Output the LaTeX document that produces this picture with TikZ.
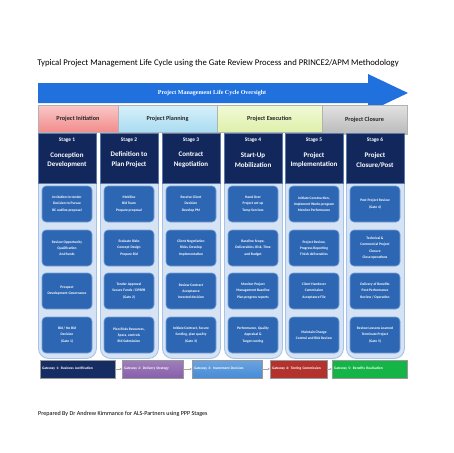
\documentclass[tikz,border=0pt]{standalone}
\usepackage{fontspec}
\setmainfont{Carlito}
\newfontfamily\serifb{Liberation Serif}
\usetikzlibrary{arrows.meta}
\definecolor{navy}{RGB}{18,40,92}
\definecolor{navyborder}{RGB}{90,120,170}
\definecolor{arrowblue}{RGB}{32,112,222}
\definecolor{colfill}{RGB}{214,227,244}
\definecolor{colline}{RGB}{165,195,232}
\definecolor{boxblue}{RGB}{45,103,180}
\definecolor{boxline}{RGB}{120,160,215}
\definecolor{gnavy}{RGB}{22,45,100}
\definecolor{gpurple}{RGB}{135,95,170}
\definecolor{gblue}{RGB}{70,140,215}
\definecolor{gred}{RGB}{180,50,45}
\definecolor{ggreen}{RGB}{20,180,70}
\tikzset{
  phase/.style={draw=gray!60, line width=0.4pt, minimum height=27, inner sep=0pt,
     font=\bfseries\fontsize{6.2}{7}\selectfont, text=black!85},
  colbg/.style={draw=colline, fill=colfill, line width=0.9pt, rounded corners=10,
     minimum width=58, minimum height=225, inner sep=0pt},
  stagehead/.style={draw=navyborder, fill=navy, line width=0.5pt, minimum width=58,
     minimum height=50, inner sep=0pt},
  stagelbl/.style={text=white, font=\bfseries\fontsize{5.4}{6}\selectfont, inner sep=0pt},
  stagename/.style={text=white, font=\bfseries\fontsize{7}{9.8}\selectfont, align=center, inner sep=0pt},
  pbox/.style={draw=boxline, line width=0.6pt, fill=boxblue, rounded corners=4, minimum width=50,
     minimum height=36, inner sep=0pt, text=white, align=center,
     font=\bfseries\fontsize{3.6}{6.2}\selectfont},
  gate/.style={minimum height=18, inner sep=0pt, text=white, draw=black!40, line width=0.3pt,
     font=\bfseries\fontsize{3.6}{4.2}\selectfont, align=left},
  garrow/.style={-{Stealth[length=2.2pt,width=2.2pt]}, draw=gray!70, line width=0.5pt}
}
\begin{document}
\begin{tikzpicture}[x=1pt,y=-1pt]
\useasboundingbox[fill=white] (0,0) rectangle (453,453);
% title
\node[font=\fontsize{8.7}{10}\selectfont, inner sep=0pt] (title) at (218,63)
  {Typical Project Management Life Cycle using the Gate Review Process and PRINCE2/APM Methodology};
% big arrow
\fill[arrowblue] (38,83) -- (368,83) -- (368,74) -- (408,93) -- (368,112) -- (368,103) -- (38,103) -- cycle;
\node[text=white, font=\serifb\bfseries\fontsize{6}{7}\selectfont, inner sep=0pt] (oversight) at (212,93)
  {Project Management Life Cycle Oversight};
% phases
\node[phase, top color={rgb,255:red,250;green,200;blue,200}, bottom color={rgb,255:red,242;green,140;blue,140},
  minimum width=80] (ph1) at (78,118.5) {Project Initiation};
\node[phase, top color={rgb,255:red,215;green,240;blue,250}, bottom color={rgb,255:red,170;green,220;blue,242},
  minimum width=99] (ph2) at (167.5,118.5) {Project Planning};
\node[phase, top color={rgb,255:red,242;green,250;blue,215}, bottom color={rgb,255:red,222;green,240;blue,170},
  minimum width=105] (ph3) at (269.5,118.5) {Project Execution};
\node[phase, top color={rgb,255:red,225;green,225;blue,225}, bottom color={rgb,255:red,185;green,185;blue,185},
  minimum width=85, minimum height=29] (ph4) at (364.5,120) {Project Closure};
% columns
\foreach \k/\xl/\nm in {1/38/{Conception\\Development}, 2/100/{Definition to\\Plan Project},
   3/162/{Contract\\Negotiation}, 4/224/{Start-Up\\Mobilization}, 5/285/{Project\\Implementation},
   6/346/{Project\\Closure/Post}}{
  \node[colbg, anchor=north west] (col\k) at (\xl,133) {};
  \node[stagehead, anchor=north west] (head\k) at (\xl,133) {};
  \node[stagelbl] (lbl\k) at (\xl+29,140) {Stage \k};
  \node[stagename] (name\k) at (\xl+29,160) {\nm};
}
% stage 1 boxes
\node[pbox] (b11) at (67,204) {Invitation to tender\\Decision to Pursue\\BC outline proposal};
\node[pbox] (b12) at (67,248) {Review Opportunity\\Qualification\\And funds};
\node[pbox] (b13) at (67,291) {Prospect\\Development Governance};
\node[pbox] (b14) at (67,335) {Bid / No Bid\\Decision\\(Gate 1)};
% stage 2
\node[pbox] (b21) at (129,204) {Mobilise\\Bid Team\\Prepare proposal};
\node[pbox] (b22) at (129,248) {Evaluate Risks\\Concept Design\\Prepare Bid};
\node[pbox] (b23) at (129,291) {Tender Approval\\Secure Funds / DPBPB\\(Gate 2)};
\node[pbox] (b24) at (129,335) {Plan Risks Resources,\\Specs, controls\\Bid Submission};
% stage 3
\node[pbox] (b31) at (191,204) {Receive Client\\Decision\\Develop PM};
\node[pbox] (b32) at (191,248) {Client Negotiation\\Risks, Develop\\Implementation};
\node[pbox] (b33) at (191,291) {Review Contract\\Acceptance\\Invested decision};
\node[pbox] (b34) at (191,335) {Initiate Contract, Secure\\funding, plan quality\\(Gate 3)};
% stage 4
\node[pbox] (b41) at (253,204) {Hand Over\\Project set-up\\Temp Services};
\node[pbox] (b42) at (253,248) {Baseline Scope,\\Deliverables, Risk, Time\\and Budget};
\node[pbox] (b43) at (253,291) {Monitor Project\\Management Baseline\\Plan progress reports};
\node[pbox] (b44) at (253,335) {Performance, Quality\\Appraisal \&\\Target costing};
% stage 5
\node[pbox] (b51) at (314,204) {Initiate Construction,\\Implement Works program\\Monitor Performance};
\node[pbox] (b52) at (314,248) {Project Review,\\Progress Reporting\\Finish deliverables};
\node[pbox] (b53) at (314,291) {Client Handover\\Commission\\Acceptance File};
\node[pbox] (b54) at (314,335) {Maintain Change\\Control and Risk Review};
% stage 6
\node[pbox] (b61) at (375,204) {Post Project Review\\(Gate 4)};
\node[pbox] (b62) at (375,248) {Technical \&\\Commercial Project\\Closure\\Close operations};
\node[pbox] (b63) at (375,291) {Delivery of Benefits\\Post-Performance\\Review / Operation};
\node[pbox] (b64) at (375,335) {Review Lessons Learned\\Terminate Project\\(Gate 5)};
% gateways
\node[gate, fill=gnavy, minimum width=75, text width=71] (g1) at (77.5,369) {Gateway 1: Business Justification};
\node[gate, top color=gpurple!80, bottom color=gpurple, minimum width=61, text width=57] (g2) at (152.5,369) {Gateway 2: Delivery Strategy};
\node[gate, top color=gblue!80, bottom color=gblue, minimum width=70, text width=66] (g3) at (227,369) {Gateway 3: Investment Decision};
\node[gate, fill=gred, minimum width=57, text width=53] (g4) at (298.5,369) {Gateway 4: Testing Commission};
\node[gate, fill=ggreen, minimum width=75, text width=71] (g5) at (369.5,369) {Gateway 5: Benefits Realisation};
\draw[garrow] (g1) -- (g2);
\draw[garrow] (g2) -- (g3);
\draw[garrow] (g3) -- (g4);
\draw[garrow] (g4) -- (g5);
% footer
\node[anchor=west, font=\fontsize{6.1}{7}\selectfont, inner sep=0pt] (footer) at (38,414)
  {Prepared By Dr Andrew Kimmance for ALS-Partners using PPP Stages};
\end{tikzpicture}
\end{document}
